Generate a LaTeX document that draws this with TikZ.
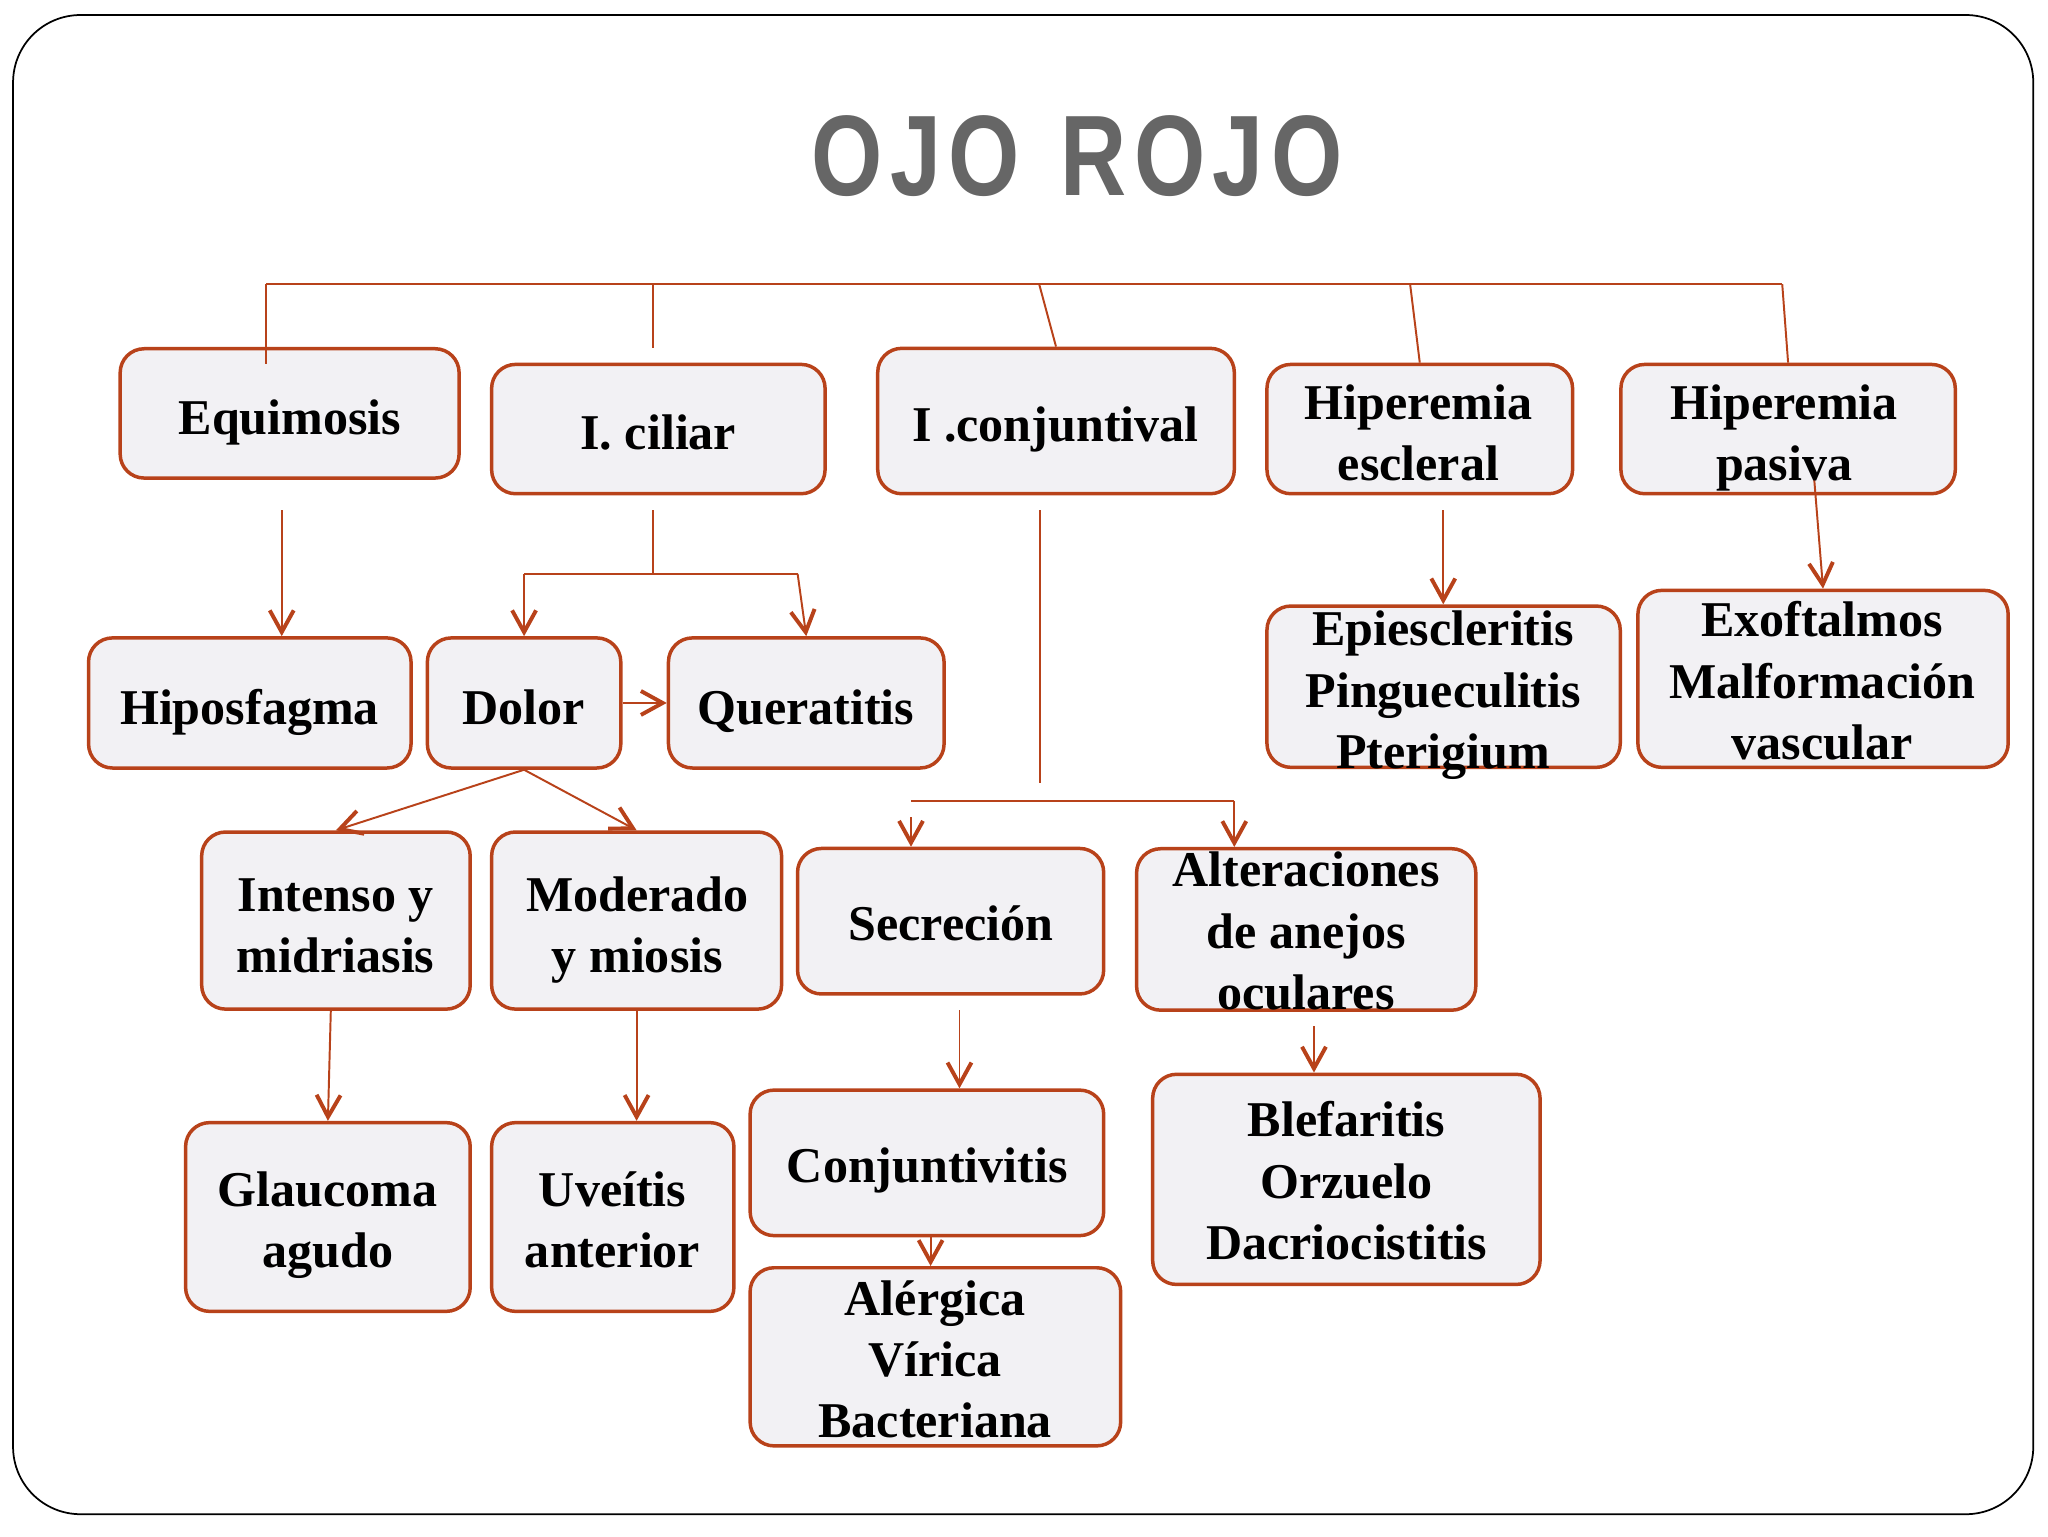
\documentclass[tikz,border=0pt]{standalone}
\usepackage{fontspec}
\setmainfont{Liberation Serif}
\newfontfamily\titlefont{Liberation Sans}
\usepackage{graphicx}
\usetikzlibrary{arrows.meta,fit,calc}
\definecolor{rust}{RGB}{184,66,26}
\definecolor{boxfill}{RGB}{242,241,244}
\definecolor{titlegray}{RGB}{102,102,102}
\newcommand{\bodyfont}{\fontsize{23}{28.2}\selectfont\bfseries}
\newcommand{\ml}[1]{\begin{tabular}[t]{@{}c@{}}#1\end{tabular}}
\newcommand{\tk}{\kern4.3pt}
\begin{document}
\begin{tikzpicture}[x=0.6pt,y=-0.6pt,
  cbox/.style={draw=rust, line width=1.6pt, fill=boxfill, rounded corners=11pt, inner sep=0pt},
  txt/.style={anchor=base, inner sep=0pt, font=\bodyfont, text=black},
  link/.style={draw=rust, line width=0.9pt},
  arr/.style={link, -{Straight Barb[length=10pt,width=11pt,line width=1.8pt]}}]
\useasboundingbox (0,0) rectangle (1568,1176);
% frame
\draw[line width=0.8pt, rounded corners=31pt] (10,11.5) rectangle (1556.7,1159.3);
% title
\node[anchor=base, inner sep=0pt, text=titlegray, font=\titlefont\bfseries\fontsize{52.6}{60}\selectfont] (title) at (824.7,149.3) {\scalebox{0.8}[1]{O\tk J\tk O\tk\ \tk R\tk O\tk J\tk O}};
% boxes
\node[cbox, fit={(92,267) (351.5,366)}] (equi) {};
\node[cbox, fit={(376.4,279) (631.7,378)}] (cil) {};
\node[cbox, fit={(672,266.7) (945,378)}] (conj) {};
\node[cbox, fit={(970,279) (1204,378)}] (hesc) {};
\node[cbox, fit={(1241,279) (1497,378)}] (hpas) {};
\node[cbox, fit={(67.8,488.4) (314.7,588)}] (hipo) {};
\node[cbox, fit={(327.2,488.4) (475.3,588)}] (dolor) {};
\node[cbox, fit={(511.8,488.4) (722.8,588)}] (quer) {};
\node[cbox, fit={(970,464) (1240.5,587.5)}] (epi) {};
\node[cbox, fit={(1254,452) (1537.5,587.5)}] (exo) {};
\node[cbox, fit={(154.4,637) (360,772.6)}] (int) {};
\node[cbox, fit={(376.4,637) (598.4,772.6)}] (mod) {};
\node[cbox, fit={(610.6,649.6) (845,761)}] (sec) {};
\node[cbox, fit={(870.2,649.8) (1129.9,773.4)}] (alt) {};
\node[cbox, fit={(142.1,859.5) (360,1004)}] (gla) {};
\node[cbox, fit={(376.4,859.5) (561.9,1004)}] (uve) {};
\node[cbox, fit={(574.3,834.6) (845,946)}] (conjv) {};
\node[cbox, fit={(574.3,970.6) (858,1107)}] (aler) {};
\node[cbox, fit={(882.5,822.5) (1179.1,983.4)}] (blef) {};
% connector coordinates
\coordinate (bL) at (204,217.5);
\coordinate (bR) at (1364.5,217.5);
\coordinate (b2) at (499.8,217.5);
\coordinate (b3) at (795.6,217.5);
\coordinate (b4) at (1079.6,217.5);
\coordinate (eqin) at (204,279);
\coordinate (cilgap) at (499.8,266.6);
\coordinate (a1) at (215.7,390.5);
\coordinate (cs) at (499.8,390.5);
\coordinate (cj) at (499.8,439.5);
\coordinate (cL) at (401.25,439.5);
\coordinate (cR) at (610.7,439.5);
\coordinate (g1) at (253.3,772.6);
\coordinate (cv1) at (796,390.5);
\coordinate (cv2) at (796,599.5);
\coordinate (h1) at (697.5,613);
\coordinate (h2) at (945,613);
\coordinate (s1) at (697.5,625.6);
\coordinate (k1) at (734.6,773.4);
\coordinate (k2) at (712.5,947);
\coordinate (m1) at (1006,785.6);
\coordinate (n1) at (1105,390.5);
\coordinate (p1) at (1389,367);
% connectors
\draw[link, line width=1.1pt] (bL) -- (bR);
\draw[link] (bL) -- (eqin);
\draw[link] (b2) -- (cilgap);
\draw[link] (b3) -- (conj.north);
\draw[link] (b4) -- (hesc.north);
\draw[link] (bR) -- (hpas.north);
\draw[arr] (a1) -- (a1 |- hipo.north);
\draw[link] (cs) -- (cj);
\draw[link] (cL) -- (cR);
\draw[arr] (cL) -- (cL |- dolor.north);
\draw[arr] (cR) -- (quer.north);
\draw[arr] (dolor.east) -- (quer.west);
\draw[arr] (dolor.south) -- (int.north);
\draw[arr] (dolor.south) -- (mod.north);
\draw[arr] (g1) -- (gla.north);
\draw[arr] (mod.south) -- (mod.south |- uve.north);
\draw[link] (cv1) -- (cv2);
\draw[link] (h1) -- (h2);
\draw[arr] (h2) -- (h2 |- alt.north);
\draw[arr] (s1) -- (s1 |- sec.north);
\draw[arr] (k1) -- (k1 |- conjv.north);
\draw[arr] (k2) -- (k2 |- aler.north);
\draw[arr] (m1) -- (m1 |- blef.north);
\draw[arr] (n1) -- (n1 |- epi.north);
\draw[arr] (p1) -- (exo.north);
% texts
\node[txt] (equi-t) at (222,333) {Equimosis};
\node[txt] (cil-t) at (504,344) {I. ciliar};
\node[txt] (conj-t) at (808,338) {I .conjuntival};
\node[txt] (hesc-t) at (1086,321) {\ml{Hiperemia\\escleral}};
\node[txt] (hpas-t) at (1366,321) {\ml{Hiperemia\\pasiva}};
\node[txt] (hipo-t) at (191,555) {Hiposfagma};
\node[txt] (dolor-t) at (401,555) {Dolor};
\node[txt] (quer-t) at (617,555) {Queratitis};
\node[txt] (epi-t) at (1105,494.4) {\ml{Epiescleritis\\Pingueculitis\\Pterigium}};
\node[txt] (exo-t) at (1395,487.6) {\ml{Exoftalmos\\Malformación\\vascular}};
\node[txt] (int-t) at (257,697.5) {\ml{Intenso y\\midriasis}};
\node[txt] (mod-t) at (488,697.5) {\ml{Moderado\\y miosis}};
\node[txt] (sec-t) at (728,720.4) {Secreción};
\node[txt] (alt-t) at (1000,679) {\ml{Alteraciones\\de anejos\\oculares}};
\node[txt] (gla-t) at (251,923.7) {\ml{Glaucoma\\agudo}};
\node[txt] (uve-t) at (469,923.7) {\ml{Uveítis\\anterior}};
\node[txt] (conjv-t) at (710,905) {Conjuntivitis};
\node[txt] (aler-t) at (716,1006.8) {\ml{Alérgica\\Vírica\\Bacteriana}};
\node[txt] (blef-t) at (1031,870.4) {\ml{Blefaritis\\Orzuelo\\Dacriocistitis}};
\end{tikzpicture}
\end{document}
